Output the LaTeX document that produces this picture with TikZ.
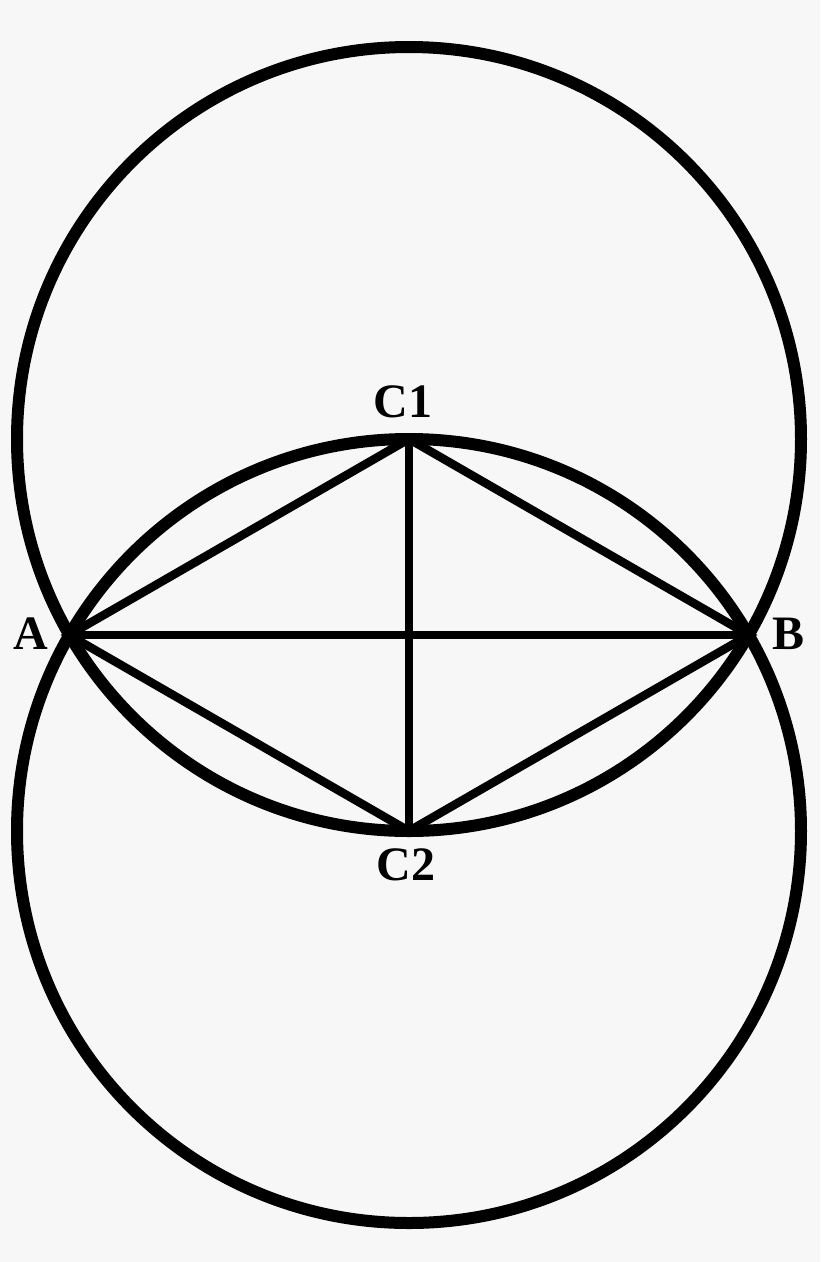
\documentclass[tikz,border=0pt]{standalone}
\usepackage{fontspec}
\setmainfont{Liberation Serif}
\definecolor{bgc}{gray}{0.97}
\begin{document}
\begin{tikzpicture}[x=1pt,y=-1pt,
  bigcirc/.style={line width=12pt, draw=black},
  chord/.style={line width=8.5pt, draw=black, line cap=round},
  lbl/.style={font=\fontsize{48}{48}\selectfont\bfseries, inner sep=0pt}]
  \fill[bgc] (0,0) rectangle (820,1262);
  \useasboundingbox (0,0) rectangle (820,1262);
  \coordinate (C1) at (409,439);
  \coordinate (C2) at (409,831);
  \coordinate (A) at (69,635);
  \coordinate (B) at (749,635);
  \draw[bigcirc] (C1) circle[radius=392pt];
  \draw[bigcirc] (C2) circle[radius=392pt];
  \draw[chord] (A) -- (B);
  \draw[chord] (C1) -- (C2);
  \draw[chord] (A) -- (C1) -- (B) -- (C2) -- cycle;
  \node[lbl] (lA) at (31,634) {A};
  \node[lbl] (lB) at (789,634) {B};
  \node[lbl] (lC1) at (403,402) {C1};
  \node[lbl] (lC2) at (406,865) {C2};
\end{tikzpicture}
\end{document}
